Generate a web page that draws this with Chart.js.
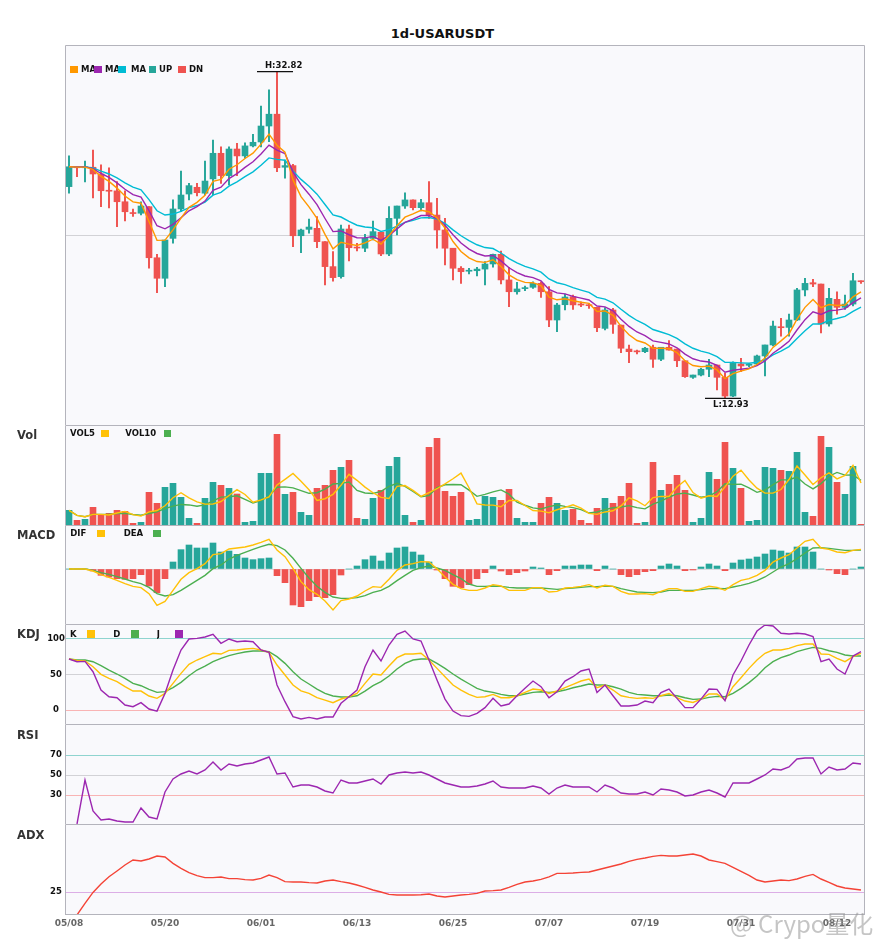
<!DOCTYPE html>
<html>
<head>
<meta charset="utf-8">
<title>1d-USARUSDT</title>
<script src="https://cdn.jsdelivr.net/npm/chart.js@4.4.1/dist/chart.umd.min.js"></script>
<style>
  body { margin: 0; background: #fff; font-family: "DejaVu Sans", sans-serif; }
  #wrap { position: relative; width: 885px; height: 950px; overflow: hidden; }
  canvas { position: absolute; left: 0; }
  .t { position: absolute; font-weight: bold; white-space: nowrap; }
  .title { left: 0; width: 885px; top: 26px; text-align: center; font-size: 13px; line-height: 16px; color: #111; }
  .pname { left: 17px; font-size: 11.5px; line-height: 14px; color: #333; }
  .lg { font-size: 8.5px; line-height: 10px; color: #111; overflow: hidden; z-index: 2; }
  .bx { position: absolute; width: 7.5px; height: 7.5px; z-index: 3; }
  .wm { position: absolute; left: 730px; top: 905px; font-family: "Noto Sans CJK SC", "DejaVu Sans", sans-serif;
        font-size: 24px; color: rgba(150,150,150,0.55); white-space: nowrap; z-index: 4; }
</style>
</head>
<body>
<div id="wrap">
  <div class="t title">1d-USARUSDT</div>

  <canvas id="cPrice"></canvas>
  <canvas id="cVol"></canvas>
  <canvas id="cMacd"></canvas>
  <canvas id="cKdj"></canvas>
  <canvas id="cRsi"></canvas>
  <canvas id="cAdx"></canvas>

  <!-- price legend -->
  <div class="bx" style="left:70px;top:65.5px;background:#ff9800"></div>
  <div class="t lg" style="left:81px;top:64px;width:13.3px">MA5</div>
  <div class="bx" style="left:94.3px;top:65.5px;background:#9c27b0"></div>
  <div class="t lg" style="left:105px;top:64px;width:13.3px">MA8</div>
  <div class="bx" style="left:118.3px;top:65.5px;background:#00bcd4"></div>
  <div class="t lg" style="left:131px;top:64px;width:16px">MA13</div>
  <div class="bx" style="left:148.7px;top:65.5px;background:#26a69a"></div>
  <div class="t lg" style="left:159px;top:64px">UP</div>
  <div class="bx" style="left:178.3px;top:65.5px;background:#ef5350"></div>
  <div class="t lg" style="left:189px;top:64px">DN</div>

  <!-- panel names -->
  <div class="t pname" style="top:428px">Vol</div>
  <div class="t pname" style="top:528px">MACD</div>
  <div class="t pname" style="top:627px">KDJ</div>
  <div class="t pname" style="top:728px">RSI</div>
  <div class="t pname" style="top:828px">ADX</div>

  <!-- sub legends -->
  <div class="t lg" style="left:70px;top:428px">VOL5</div>
  <div class="bx" style="left:101.3px;top:429.5px;background:#ffc107"></div>
  <div class="t lg" style="left:125.3px;top:428px">VOL10</div>
  <div class="bx" style="left:163.7px;top:429.5px;background:#4caf50"></div>

  <div class="t lg" style="left:70.3px;top:528px">DIF</div>
  <div class="bx" style="left:97px;top:529.5px;background:#ffc107"></div>
  <div class="t lg" style="left:123.7px;top:528px">DEA</div>
  <div class="bx" style="left:153px;top:529.5px;background:#4caf50"></div>

  <div class="t lg" style="left:70px;top:628.7px">K</div>
  <div class="bx" style="left:87.3px;top:630px;background:#ffc107"></div>
  <div class="t lg" style="left:113.3px;top:628.7px">D</div>
  <div class="bx" style="left:131px;top:630px;background:#4caf50"></div>
  <div class="t lg" style="left:156.7px;top:628.7px">J</div>
  <div class="bx" style="left:175px;top:630px;background:#9c27b0"></div>

  <div class="wm">@ Crypo量化</div>
</div>

<script>
// ---- data ----
const dates = [
  '05/08','05/09','05/10','05/11','05/12','05/13','05/14','05/15','05/16','05/17','05/18','05/19',
  '05/20','05/21','05/22','05/23','05/24','05/25','05/26','05/27','05/28','05/29','05/30','05/31',
  '06/01','06/02','06/03','06/04','06/05','06/06','06/07','06/08','06/09','06/10','06/11','06/12',
  '06/13','06/14','06/15','06/16','06/17','06/18','06/19','06/20','06/21','06/22','06/23','06/24',
  '06/25','06/26','06/27','06/28','06/29','06/30','07/01','07/02','07/03','07/04','07/05','07/06',
  '07/07','07/08','07/09','07/10','07/11','07/12','07/13','07/14','07/15','07/16','07/17','07/18',
  '07/19','07/20','07/21','07/22','07/23','07/24','07/25','07/26','07/27','07/28','07/29','07/30',
  '07/31','08/01','08/02','08/03','08/04','08/05','08/06','08/07','08/08','08/09','08/10','08/11',
  '08/12','08/13','08/14','08/15'
];

const opens = [
  25.82,27.03,26.97,27.00,26.59,25.57,25.56,24.90,24.21,24.20,
  24.60,21.49,20.24,22.67,24.46,25.37,25.78,25.42,26.29,27.85,
  26.49,28.11,27.69,28.30,28.54,29.51,30.23,27.00,27.10,22.83,
  23.22,23.28,22.47,20.95,20.34,23.24,22.12,22.07,22.67,23.04,
  21.72,23.89,24.64,25.01,24.54,24.84,24.09,23.18,22.07,20.85,
  20.67,20.70,20.80,21.11,21.70,20.14,19.42,19.61,19.69,19.93,
  19.42,17.70,18.63,19.12,18.65,18.62,18.47,17.19,18.31,17.39,
  15.93,15.79,15.77,16.04,15.31,16.04,15.93,15.22,14.21,14.35,
  14.70,14.96,14.21,13.07,15.02,14.94,15.02,15.51,16.18,17.29,
  17.25,17.70,19.53,19.97,19.89,17.46,18.96,18.47,18.67,20.09
];
const highs = [
  27.70,27.05,27.38,28.05,27.14,26.96,26.12,25.56,24.46,24.90,
  24.60,21.70,22.57,25.01,26.77,26.02,26.02,27.38,28.66,28.25,
  28.25,28.46,28.48,29.01,30.73,31.71,32.82,27.44,27.18,23.24,
  23.85,23.99,22.47,21.86,23.48,23.48,22.37,22.92,23.73,23.08,
  24.60,24.64,25.45,25.01,25.05,26.12,25.11,23.89,22.07,20.95,
  20.85,20.91,21.25,21.72,21.90,20.91,20.00,19.77,20.03,20.03,
  19.73,18.72,19.28,19.22,18.81,18.72,18.47,18.45,18.41,17.39,
  16.18,15.87,16.04,16.18,16.04,16.44,15.93,15.22,14.35,14.76,
  15.30,14.96,14.45,15.16,15.37,15.06,15.57,16.18,17.64,17.80,
  18.06,19.63,20.24,20.18,19.89,19.63,19.42,19.22,20.54,20.09
];
const lows = [
  25.42,26.43,26.10,25.13,24.60,24.52,23.38,23.73,24.00,24.09,
  20.85,19.36,19.73,22.37,24.30,25.01,25.25,25.31,25.31,26.02,
  25.92,26.49,27.56,28.24,28.24,28.56,26.73,26.33,22.16,21.80,
  22.98,22.10,19.83,20.07,20.24,21.29,21.90,21.86,22.57,21.61,
  21.61,22.88,24.50,24.40,24.34,23.89,22.07,21.05,20.14,19.93,
  20.50,20.38,19.83,20.91,19.89,18.51,19.28,19.48,19.63,19.08,
  17.29,16.99,18.31,18.35,18.51,18.41,16.99,17.09,16.89,15.71,
  15.10,15.63,15.71,14.82,15.22,15.87,14.86,14.21,14.15,14.29,
  14.25,13.44,12.93,13.03,14.55,14.86,14.96,14.29,16.12,16.72,
  16.72,17.66,19.16,19.73,16.92,17.33,18.06,18.35,18.55,19.93
];
const closes = [
  27.03,26.97,27.02,26.59,25.57,25.54,24.90,24.29,24.18,24.64,
  21.49,20.24,22.57,24.46,25.31,25.88,25.45,26.16,27.85,26.49,
  28.11,27.69,28.30,28.52,29.51,30.23,26.97,27.10,22.83,23.18,
  23.36,22.47,20.95,20.28,23.24,22.10,22.08,22.67,23.08,21.72,
  23.89,24.64,25.01,24.54,24.84,24.09,23.18,22.07,20.85,20.64,
  20.71,20.80,21.11,21.70,20.14,19.42,19.59,19.64,19.93,19.42,
  17.70,18.61,19.10,18.62,18.61,18.57,17.23,18.31,17.44,15.98,
  15.77,15.76,15.98,15.31,16.04,15.87,15.22,14.25,14.35,14.70,
  14.96,14.21,13.07,15.06,14.90,14.98,15.51,16.18,17.33,17.23,
  17.70,19.53,19.93,19.89,17.46,19.02,18.47,18.67,20.09,20.03
];

const ma5 = [
  27.03,27.01,27.01,26.87,26.44,26.14,25.73,25.25,24.89,24.81,
  23.70,22.55,22.56,23.19,23.90,24.56,24.86,25.29,26.14,26.26,
  26.88,27.15,27.53,27.86,28.41,29.02,28.34,27.92,26.23,25.21,
  24.59,23.89,22.91,22.03,22.43,22.32,22.24,22.39,22.62,22.32,
  22.84,23.44,23.96,24.16,24.38,24.29,23.92,23.30,22.48,21.87,
  21.48,21.26,21.21,21.37,20.96,20.45,20.16,19.99,19.97,19.79,
  19.09,18.93,18.99,18.87,18.78,18.71,18.22,18.25,17.98,17.31,
  16.80,16.45,16.30,15.97,15.99,15.95,15.71,15.22,14.93,14.85,
  14.89,14.66,14.13,14.44,14.59,14.72,14.99,15.38,16.03,16.43,
  16.85,17.75,18.47,18.95,18.45,18.64,18.58,18.61,19.11,19.41
];
const ma8 = [
  27.03,27.02,27.02,26.92,26.62,26.38,26.05,25.66,25.33,25.18,
  24.36,23.44,23.25,23.52,23.92,24.35,24.60,24.94,25.59,25.79,
  26.31,26.61,26.99,27.33,27.81,28.35,28.04,27.83,26.72,25.94,
  25.36,24.72,23.88,23.08,23.12,22.89,22.71,22.70,22.79,22.55,
  22.85,23.25,23.64,23.84,24.06,24.07,23.87,23.47,22.89,22.39,
  22.02,21.75,21.60,21.63,21.30,20.88,20.59,20.38,20.28,20.09,
  19.56,19.35,19.29,19.14,19.03,18.92,18.55,18.50,18.26,17.75,
  17.31,16.97,16.75,16.43,16.34,16.24,16.01,15.62,15.34,15.20,
  15.14,14.94,14.52,14.64,14.70,14.76,14.93,15.21,15.68,16.02,
  16.40,17.09,17.72,18.20,18.04,18.26,18.30,18.39,18.76,19.05
];
const ma13 = [
  27.03,27.02,27.02,26.96,26.76,26.59,26.35,26.05,25.79,25.62,
  25.03,24.35,24.09,24.15,24.31,24.54,24.67,24.88,25.30,25.47,
  25.85,26.11,26.43,26.72,27.12,27.57,27.48,27.43,26.77,26.26,
  25.84,25.36,24.73,24.10,23.97,23.71,23.47,23.36,23.32,23.09,
  23.20,23.41,23.64,23.77,23.92,23.94,23.84,23.58,23.19,22.83,
  22.53,22.28,22.11,22.05,21.78,21.44,21.18,20.96,20.81,20.61,
  20.20,19.97,19.85,19.67,19.52,19.38,19.08,18.97,18.75,18.35,
  17.98,17.67,17.43,17.12,16.97,16.81,16.58,16.25,15.98,15.80,
  15.68,15.47,15.13,15.12,15.09,15.07,15.13,15.28,15.58,15.81,
  16.08,16.57,17.05,17.46,17.46,17.68,17.79,17.92,18.23,18.49
];

const volumes = [
  44,14,17,53,31,35,44,41,5,8,
  98,65,113,125,83,20,5,80,128,119,
  110,93,8,11,155,155,272,92,98,38,
  29,110,119,164,173,194,20,17,80,104,
  176,203,29,8,14,233,260,101,86,98,
  14,17,86,83,74,107,20,8,8,65,
  83,65,44,47,14,5,50,80,65,86,
  125,5,8,188,104,122,149,104,8,20,
  158,137,248,170,110,11,14,173,170,164,
  161,218,38,26,266,233,128,92,176,2
];
const vol5 = [
  44,29,25,32,31.8,30,36,40.8,31.2,26.6,
  39.2,43.4,57.8,81.8,96.8,81.2,69.2,62.6,63.2,70.4,
  88.4,106,91.6,68.2,75.4,84.4,120.2,137,154.4,131,
  105.8,73.4,78.8,92,119,152,134,113.6,96.8,83,
  79.4,116,118.4,104,86,97.4,108.8,123.2,138.8,155.6,
  111.8,63.2,60.2,59.6,54.8,73.4,74,58.4,43.4,41.6,
  36.8,45.8,53,60.8,50.6,35,32,39.2,42.8,57.2,
  81.2,72.2,57.8,82.4,86,85.4,114.2,133.4,97.4,80.6,
  87.8,85.4,114.2,146.6,164.6,135.2,110.6,95.6,95.6,106.4,
  136.4,177.2,150.2,121.4,141.8,156.2,138.2,149,179,126.2
];
const vol10 = [
  44,29,25,32,31.8,32.3,34,34.9,31.6,29.2,
  34.6,39.7,49.3,56.5,61.7,60.2,56.3,60.2,72.5,83.6,
  84.8,87.6,77.1,65.7,72.9,86.4,113.1,114.3,111.3,103.2,
  95.1,96.8,107.9,123.2,125,128.9,103.7,96.2,94.4,101,
  115.7,125,116,100.4,84.5,88.4,112.4,120.8,121.4,120.8,
  104.6,86,91.7,99.2,105.2,92.6,68.6,59.3,51.5,48.2,
  55.1,59.9,55.7,52.1,46.1,35.9,38.9,46.1,51.8,53.9,
  58.1,52.1,48.5,62.6,71.6,83.3,93.2,95.6,89.9,83.3,
  86.6,99.8,123.8,122,122.6,111.5,98,104.9,121.1,135.5,
  135.8,143.9,122.9,108.5,124.1,146.3,157.7,149.6,150.2,134
];

const dif = [
  0,0,0,-0.06,-0.17,-0.25,-0.34,-0.44,-0.52,-0.56,
  -0.74,-1.09,-0.97,-0.64,-0.31,-0.11,0.01,0.16,0.43,0.46,
  0.60,0.63,0.66,0.72,0.80,0.89,0.57,0.37,0.02,-0.38,
  -0.62,-0.76,-0.96,-1.23,-0.95,-0.90,-0.81,-0.66,-0.53,-0.55,
  -0.31,-0.04,0.12,0.16,0.22,0.21,0.01,-0.24,-0.46,-0.59,
  -0.64,-0.64,-0.57,-0.47,-0.51,-0.64,-0.64,-0.64,-0.56,-0.56,
  -0.69,-0.67,-0.57,-0.55,-0.52,-0.47,-0.57,-0.49,-0.52,-0.67,
  -0.75,-0.75,-0.74,-0.77,-0.67,-0.59,-0.59,-0.67,-0.67,-0.59,
  -0.52,-0.55,-0.64,-0.47,-0.34,-0.29,-0.19,-0.04,0.21,0.33,
  0.43,0.63,0.83,0.89,0.63,0.59,0.51,0.49,0.56,0.59
];
const dea = [
  0,0,0,-0.04,-0.11,-0.16,-0.23,-0.30,-0.38,-0.44,
  -0.55,-0.74,-0.81,-0.77,-0.64,-0.49,-0.34,-0.19,0.01,0.12,
  0.30,0.41,0.50,0.59,0.67,0.74,0.70,0.57,0.32,0.02,
  -0.27,-0.52,-0.70,-0.84,-0.88,-0.88,-0.86,-0.80,-0.70,-0.64,
  -0.52,-0.35,-0.19,-0.04,0.04,0.09,0.03,-0.04,-0.17,-0.29,
  -0.45,-0.52,-0.52,-0.51,-0.52,-0.55,-0.57,-0.57,-0.57,-0.57,
  -0.59,-0.61,-0.59,-0.57,-0.55,-0.53,-0.53,-0.51,-0.52,-0.59,
  -0.64,-0.69,-0.70,-0.71,-0.69,-0.64,-0.64,-0.64,-0.64,-0.62,
  -0.59,-0.58,-0.59,-0.54,-0.49,-0.43,-0.35,-0.24,-0.09,0.06,
  0.16,0.31,0.48,0.63,0.64,0.62,0.59,0.56,0.56,0.57
];
const macdHist = [
  0,0,0,-0.06,-0.19,-0.24,-0.29,-0.31,-0.29,-0.17,
  -0.51,-0.71,-0.29,0.21,0.58,0.72,0.63,0.63,0.78,0.51,
  0.54,0.44,0.33,0.28,0.31,0.33,-0.20,-0.41,-1.08,-1.13,
  -0.95,-0.83,-0.86,-0.77,-0.18,0,0.09,0.28,0.39,0.24,
  0.48,0.63,0.66,0.51,0.42,0.21,-0.03,-0.29,-0.52,-0.56,
  -0.47,-0.29,-0.11,0.09,-0.06,-0.17,-0.11,-0.06,0.06,0.03,
  -0.17,-0.05,0.09,0.09,0.12,0.12,-0.05,0.09,0,-0.17,
  -0.23,-0.17,-0.08,-0.05,0.09,0.15,0.09,-0.05,-0.03,0.06,
  0.15,0.09,-0.05,0.18,0.27,0.30,0.36,0.45,0.57,0.54,
  0.48,0.66,0.66,0.51,0,-0.03,-0.14,-0.17,0,0.06
];

const kLine = [
  71.8,69.9,69.0,61.0,50.2,44.6,39.9,32.8,26.7,26.7,
  19.7,16.4,23.4,37.5,51.6,64.3,70.4,75.1,79.8,78.8,
  84.0,84.5,85.9,86.8,84.5,81.2,63.3,49.3,35.2,27.0,
  23.4,17.3,14.0,10.3,15.5,18.7,23.4,37.5,50.7,49.3,
  61.9,73.7,78.8,78.8,79.8,70.4,58.6,46.9,35.2,28.1,
  22.0,17.8,18.7,22.0,17.3,17.3,20.1,24.8,29.5,28.1,
  23.4,26.7,31.4,36.1,40.8,43.6,31.4,35.2,28.1,20.1,
  17.8,16.4,17.3,16.4,20.1,23.4,17.3,12.6,10.7,15.4,
  22.5,22.5,14.0,32.8,45.5,58.6,70.4,79.8,84.5,84.5,
  86.8,90.6,92.9,92.9,78.8,78.4,72.7,68.0,75.1,79.8
];
const dLine = [
  71.8,70.4,70.4,68.0,62.4,56.3,50.7,44.6,37.5,34.2,
  29.1,24.8,25.8,31.4,38.9,48.3,56.3,61.9,68.0,72.7,
  76.5,79.3,81.6,83.1,83.1,82.1,75.1,65.7,53.9,43.6,
  36.6,29.5,23.4,19.7,18.3,18.3,20.1,26.7,34.2,39.9,
  47.8,57.7,65.7,70.4,71.8,71.8,65.7,58.6,50.7,43.6,
  37.0,30.5,26.7,24.8,22.0,20.1,20.1,22.5,24.8,25.8,
  24.8,25.8,28.1,31.4,33.8,36.6,35.2,35.2,32.8,29.5,
  24.8,22.0,21.1,20.1,20.1,21.1,20.1,17.3,15.0,15.4,
  17.8,19.2,18.7,23.4,30.5,38.5,47.8,59.6,68.0,73.7,
  77.4,82.1,85.4,88.2,86.8,83.5,81.2,77.4,76.0,76.0
];
const jLine = [
  71.8,68.0,68.5,53.9,28.1,18.7,17.3,7.0,4.7,10.3,
  1.4,-1.5,23.4,56.3,84.5,100.0,100.9,102.8,106.5,93.9,
  100.0,96.2,97.2,96.2,84.5,81.2,35.2,11.7,-9.4,-12.7,
  -10.4,-12.7,-9.9,-9.9,9.4,18.7,28.1,61.0,84.5,69.0,
  91.5,106.5,111.2,100.0,97.2,70.4,42.2,15.4,-1.5,-8.0,
  -9.0,-4.7,3.3,16.4,5.6,8.4,20.1,30.5,40.8,32.8,
  17.3,25.8,40.8,46.9,54.9,57.7,24.8,35.2,20.1,5.6,
  5.6,7.0,12.6,10.3,24.4,29.5,16.4,3.3,3.3,15.4,
  29.5,29.1,13.1,49.3,69.0,91.5,111.2,119.7,118.3,108.0,
  107.0,108.0,107.0,103.3,68.0,71.8,57.7,50.7,76.0,82.1
];

const rsi = [
  null,1,45,14,5,6,4,3,3,17,
  8,6,33,46,51,54,51,55,63,55,
  61,59,61,62,65,68,51,52,38,40,
  40,38,34,32,45,42,42,44,46,41,
  50,52,53,52,53,50,46,42,40,38,
  38,39,41,44,38,37,37,37,39,37,
  31,37,40,38,38,38,33,40,37,32,
  31,31,33,30,36,35,33,29,30,33,
  35,32,28,42,42,42,46,50,56,55,
  58,66,67,67,51,58,55,56,62,61
];
const adx = [
  13.5,13.5,19.3,24.8,29.0,32.6,35.5,38.5,41.0,40.5,
  41.5,43.0,42.5,39.3,36.8,34.7,33.2,32.2,32.2,32.5,
  31.7,31.7,31.2,31.0,31.8,33.5,32.2,30.2,30.0,30.0,
  29.7,29.5,30.5,31.0,30.2,29.5,28.5,27.3,26.0,25.0,
  23.8,23.5,23.5,23.5,23.6,24.0,23.0,22.5,23.0,23.5,
  23.8,24.3,25.5,25.7,26.0,27.3,28.8,30.0,30.5,31.3,
  32.6,34.3,34.3,34.5,34.8,35.0,36.0,37.0,38.0,39.0,
  40.3,41.3,42.0,42.8,43.3,43.0,43.0,43.5,44.0,43.0,
  41.0,40.2,39.3,37.3,35.3,33.3,31.0,30.0,30.5,31.0,
  30.7,31.5,32.8,33.8,31.5,29.8,28.0,27.0,26.5,26.0
];

const kdjTicks = [0, 50, 100];
const rsiTicks = [30, 50, 70];
const adxTicks = [25];
const xLabelEvery = 12;

// ---- drawing ----
Chart.defaults.font.family = '"DejaVu Sans", sans-serif';

const UP = '#26a69a', DN = '#ef5350';
const TEAL_LINE = '#8fd4cf', PINK_LINE = '#f9b4b4', GRAY_LINE = '#d2d2d6', LILAC_LINE = '#dcaee6';
const PAGE_W = 885, AREA_L = 65, AREA_R = 865;

const candleColors = closes.map((c, i) => (c >= opens[i] ? UP : DN));
const hiVal = Math.max(...highs), loVal = Math.min(...lows);
const pad = (hiVal - loVal) * 0.0816;

const framePlugin = {
  id: 'frame',
  beforeDraw(chart) {
    const { ctx, chartArea: a } = chart;
    ctx.save();
    ctx.fillStyle = '#f9f9fc';
    ctx.fillRect(a.left, a.top, a.right - a.left, a.bottom - a.top);
    ctx.restore();
  },
  afterDraw(chart, args, opts) {
    const { ctx, chartArea: a } = chart;
    ctx.save();
    ctx.strokeStyle = '#b4b4bc';
    ctx.lineWidth = 1;
    ctx.beginPath();
    ctx.moveTo(a.left + 0.5, a.bottom);
    ctx.lineTo(a.left + 0.5, a.top + 0.5);
    ctx.lineTo(a.right - 0.5, a.top + 0.5);
    ctx.lineTo(a.right - 0.5, a.bottom);
    if (opts.bottom) {
      ctx.moveTo(a.left, a.bottom - 0.5);
      ctx.lineTo(a.right, a.bottom - 0.5);
    }
    ctx.stroke();
    ctx.restore();
  }
};

// tick labels of the small panels, centred left of the frame
const tickTextPlugin = {
  id: 'tickText',
  afterDraw(chart, args, opts) {
    if (!opts.show) return;
    const { ctx } = chart;
    const y = chart.scales.y;
    ctx.save();
    ctx.font = 'bold 8.5px "DejaVu Sans"';
    ctx.fillStyle = '#111';
    ctx.textAlign = 'center';
    ctx.textBaseline = 'middle';
    y.ticks.forEach(t => ctx.fillText(String(t.value), 56, y.getPixelForValue(t.value)));
    ctx.restore();
  }
};

// H / L marks on the extreme candles
const hiLoPlugin = {
  id: 'hiLo',
  afterDatasetsDraw(chart) {
    const { ctx } = chart;
    const { x, y } = chart.scales;
    const hx = x.getPixelForValue(highs.indexOf(hiVal));
    const lx = x.getPixelForValue(lows.indexOf(loVal));
    const hy = y.getPixelForValue(hiVal);
    const ly = y.getPixelForValue(loVal);
    ctx.save();
    ctx.strokeStyle = '#111';
    ctx.lineWidth = 1.2;
    ctx.beginPath();
    ctx.moveTo(hx - 20, hy); ctx.lineTo(hx + 16, hy);
    ctx.moveTo(lx - 20, ly); ctx.lineTo(lx + 16, ly);
    ctx.stroke();
    ctx.fillStyle = '#111';
    ctx.font = 'bold 8.5px "DejaVu Sans"';
    ctx.textBaseline = 'bottom';
    ctx.fillText('H:' + hiVal.toFixed(2), hx - 12, hy - 1.5);
    ctx.textBaseline = 'top';
    ctx.fillText('L:' + loVal.toFixed(2), lx - 12, ly + 2);
    ctx.restore();
  }
};

function lineSet(data, color, order) {
  return { type: 'line', data, borderColor: color, borderWidth: 1.4, pointRadius: 0, tension: 0, fill: false, order };
}

function makePanel(id, top, height, datasets, y, extra = {}) {
  const cv = document.getElementById(id);
  cv.width = PAGE_W;
  cv.height = height;
  cv.style.top = top + 'px';
  const showX = !!extra.showX;
  return new Chart(cv, {
    type: 'bar',
    data: { labels: dates, datasets },
    options: {
      responsive: false,
      animation: false,
      events: [],
      layout: { padding: { left: 0, right: PAGE_W - AREA_R, top: 0, bottom: 0 } },
      plugins: {
        legend: { display: false },
        tooltip: { enabled: false },
        frame: { bottom: showX },
        tickText: { show: !!y.labels }
      },
      scales: {
        x: {
          type: 'category',
          offset: true,
          display: true,
          grid: { display: false, drawTicks: false },
          border: { display: false },
          afterFit: s => { s.height = showX ? 18 : 0; },
          ticks: {
            display: showX,
            autoSkip: false,
            maxRotation: 0,
            padding: 3,
            color: '#666',
            font: { size: 9, weight: 'bold' },
            callback: (v, i) => (i % xLabelEvery === 0 ? dates[i] : null)
          }
        },
        y: {
          min: y.min,
          max: y.max,
          afterFit: s => { s.width = AREA_L; },
          afterBuildTicks: s => { s.ticks = (y.ticks || []).map(v => ({ value: v })); },
          grid: {
            display: !!(y.ticks && y.ticks.length),
            drawTicks: false,
            color: c => (y.colors && y.colors[c.tick.value]) || GRAY_LINE,
            lineWidth: 1
          },
          border: { display: false },
          ticks: { display: false }
        }
      }
    },
    plugins: [framePlugin, tickTextPlugin].concat(extra.plugins || [])
  });
}

// price panel
makePanel('cPrice', 45, 380, [
  lineSet(ma5, '#ff9800', 0),
  lineSet(ma8, '#9c27b0', 0),
  lineSet(ma13, '#00bcd4', 0),
  { type: 'bar', data: opens.map((o, i) => [o, closes[i]]), backgroundColor: candleColors,
    barThickness: 6, minBarLength: 1, grouped: false, order: 1 },
  { type: 'bar', data: lows.map((l, i) => [l, highs[i]]), backgroundColor: candleColors,
    barThickness: 1.3, grouped: false, order: 2 }
], { min: loVal - pad, max: hiVal + pad, ticks: [(hiVal + loVal) / 2], colors: {} }, { plugins: [hiLoPlugin] });

// volume panel
makePanel('cVol', 425, 100, [
  lineSet(vol5, '#ffc107', 0),
  lineSet(vol10, '#4caf50', 0),
  { type: 'bar', data: volumes, backgroundColor: candleColors, barThickness: 6, grouped: false, order: 1 }
], { min: 0, max: 300 });

// MACD panel
makePanel('cMacd', 525, 99, [
  lineSet(dif, '#ffc107', 0),
  lineSet(dea, '#4caf50', 1),
  { type: 'bar', data: macdHist, backgroundColor: macdHist.map(v => (v >= 0 ? UP : DN)),
    barThickness: 6, grouped: false, order: 2 }
], { min: -1.65, max: 1.32, ticks: [0], colors: { 0: '#dcdce0' } });

// KDJ panel
makePanel('cKdj', 624, 100, [
  lineSet(jLine, '#9c27b0', 0),
  lineSet(kLine, '#ffc107', 1),
  lineSet(dLine, '#4caf50', 2)
], { min: -19.7, max: 121.1, ticks: kdjTicks, labels: true,
     colors: { 0: PINK_LINE, 50: GRAY_LINE, 100: TEAL_LINE } });

// RSI panel
makePanel('cRsi', 724, 100, [
  lineSet(rsi, '#9c27b0', 0)
], { min: 1, max: 101, ticks: rsiTicks, labels: true,
     colors: { 30: PINK_LINE, 50: GRAY_LINE, 70: TEAL_LINE } });

// ADX panel with the date axis
makePanel('cAdx', 824, 109, [
  lineSet(adx, '#f44336', 0)
], { min: 13.5, max: 59, ticks: adxTicks, labels: true, colors: { 25: LILAC_LINE } }, { showX: true });
</script>
</body>
</html>
